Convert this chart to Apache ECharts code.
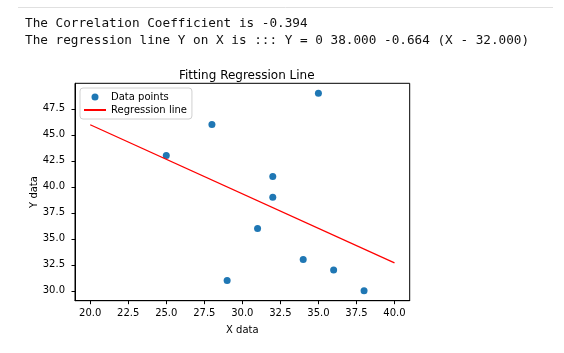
<!DOCTYPE html>
<html>
<head>
<meta charset="utf-8">
<script src="https://cdn.jsdelivr.net/npm/echarts@6/dist/echarts.min.js"></script>
<style>
  html, body { margin: 0; padding: 0; background: #fff; }
  #chart { width: 564px; height: 353px; }
</style>
</head>
<body>
<div id="chart"></div>
<script>
// data
var xData = [25, 28, 29, 31, 32, 32, 34, 35, 36, 38];
var yData = [43, 46, 31, 36, 41, 39, 33, 49, 32, 30];
var lineX = [20, 40];
var lineY = [45.968, 32.688];
var xTicks = [20, 22.5, 25, 27.5, 30, 32.5, 35, 37.5, 40];
var yTicks = [30, 32.5, 35, 37.5, 40, 42.5, 45, 47.5];
var outputLines = [
    'The Correlation Coefficient is -0.394',
    'The regression line Y on X is ::: Y = 0 38.000 -0.664 (X - 32.000)'
];

var mono = '"DejaVu Sans Mono", "Liberation Mono", monospace';
var sans = '"DejaVu Sans", sans-serif';

var chart = echarts.init(document.getElementById('chart'), null, { renderer: 'canvas' });

var points = xData.map(function (x, i) { return [x, yData[i]]; });
var linePts = lineX.map(function (x, i) { return [x, lineY[i]]; });

var option = {
    animation: false,
    backgroundColor: '#fff',
    title: {
        text: 'Fitting Regression Line',
        left: 174, top: 65,
        textStyle: { fontFamily: sans, fontSize: 12, fontWeight: 'normal', color: '#000' }
    },
    legend: {
        left: 80, top: 88,
        orient: 'vertical',
        padding: [4, 5, 4, 3],
        itemGap: 3,
        itemWidth: 22,
        itemHeight: 7,
        backgroundColor: '#fff',
        borderColor: '#d0d0d0',
        borderWidth: 1,
        borderRadius: 3,
        textStyle: { fontFamily: sans, fontSize: 10, color: '#000' },
        data: [
            { name: 'Data points', icon: 'circle' },
            { name: 'Regression line', itemStyle: { opacity: 0 } }
        ]
    },
    grid: {
        left: 75, right: 154.3, top: 83.3, bottom: 52.3,
        show: true, borderColor: '#000', borderWidth: 1
    },
    xAxis: {
        type: 'value', min: 19, max: 41,
        name: 'X data', nameLocation: 'middle', nameGap: 25, nameMoveOverlap: false,
        nameTextStyle: { fontFamily: sans, fontSize: 10, color: '#000' },
        axisLine: { show: true, lineStyle: { color: '#000' } },
        axisTick: { show: true, length: 3.5, customValues: xTicks, lineStyle: { color: '#000' } },
        axisLabel: {
            customValues: xTicks, fontFamily: sans, fontSize: 10, color: '#000', margin: 8,
            formatter: function (v) { return v.toFixed(1); }
        },
        splitLine: { show: false }
    },
    yAxis: {
        type: 'value', min: 29.05, max: 49.95,
        name: 'Y data', nameLocation: 'middle', nameGap: 36, nameRotate: 90, nameMoveOverlap: false,
        nameTextStyle: { fontFamily: sans, fontSize: 10, color: '#000' },
        axisLine: { show: true, lineStyle: { color: '#000' } },
        axisTick: { show: true, length: 3.5, customValues: yTicks, lineStyle: { color: '#000' } },
        axisLabel: {
            customValues: yTicks, fontFamily: sans, fontSize: 10, color: '#000', margin: 10,
            formatter: function (v) { return v.toFixed(1); }
        },
        splitLine: { show: false }
    },
    series: [
        {
            name: 'Data points',
            type: 'scatter',
            symbol: 'circle',
            symbolSize: 7,
            itemStyle: { color: '#1f77b4', opacity: 1 },
            data: points
        },
        {
            name: 'Regression line',
            type: 'line',
            symbol: 'none',
            lineStyle: { color: '#ff0000', width: 1.3 },
            itemStyle: { color: '#ff0000' },
            data: linePts
        }
    ],
    graphic: [
        {
            type: 'line',
            shape: { x1: 18, y1: 7.5, x2: 553, y2: 7.5 },
            style: { stroke: '#e0e0e0', lineWidth: 1 }
        },
        {
            type: 'text', x: 25, y: 23.5,
            style: { text: outputLines[0], font: '12.7px ' + mono, fill: '#111', verticalAlign: 'middle' }
        },
        {
            type: 'text', x: 25, y: 40.2,
            style: { text: outputLines[1], font: '12.7px ' + mono, fill: '#111', verticalAlign: 'middle' }
        }
    ]
};

chart.setOption(option);
</script>
</body>
</html>
